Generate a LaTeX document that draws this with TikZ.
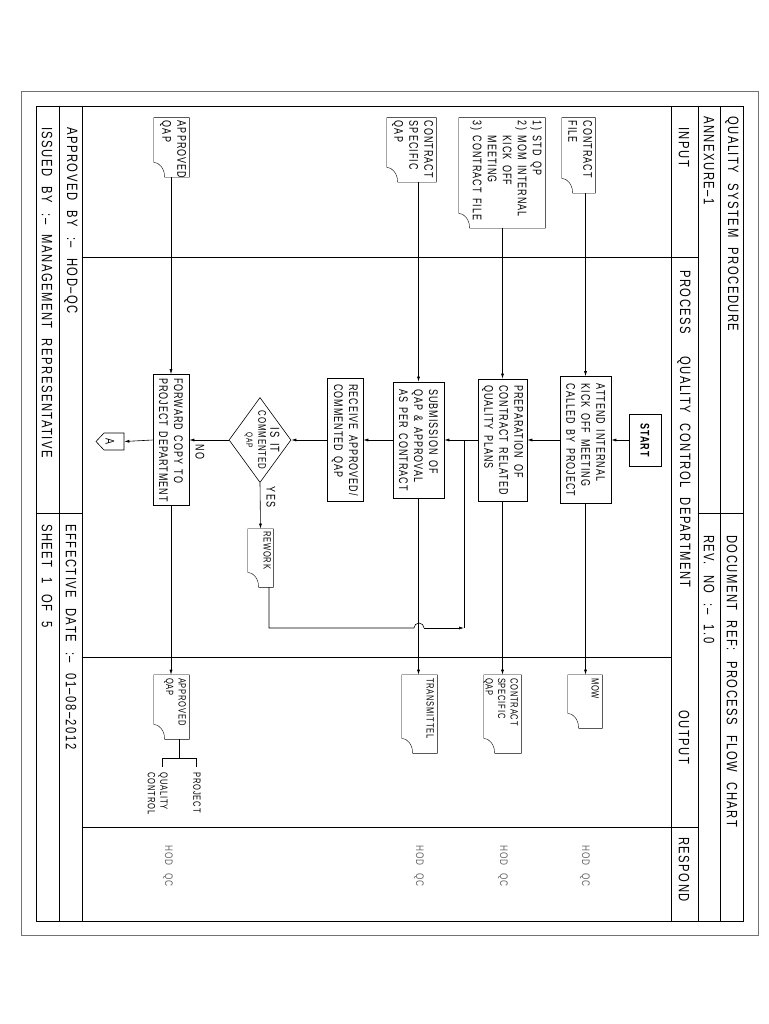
\documentclass[tikz,border=0pt]{standalone}
\usepackage{fontspec}
\usetikzlibrary{shapes.geometric,calc,arrows.meta}
\newfontfamily\cadf[FakeStretch=0.75,LetterSpace=10,WordSpace=2.2]{Liberation Sans}
\newfontfamily\cadp[FakeStretch=0.72,LetterSpace=8,WordSpace=1.6]{Liberation Sans}
\newcommand\hfnt{\cadf\fontsize{15}{17}\selectfont}
\newcommand\pfnt{\cadp\fontsize{12.5}{15}\selectfont}
\newcommand\ofnt{\cadp\fontsize{10.5}{12.5}\selectfont}
\newcommand\rfnt{\cadf\fontsize{11}{12}\selectfont}
\newcommand\docframe[1]{\draw[thin] (#1.south west) -- (#1.north west) -- (#1.north east) -- ($(#1.south east)+(11,0)$) .. controls ($(#1.south east)+(11,-8)$) and ($(#1.south east)+(6,-15)$) .. ($(#1.south east)+(0,-15)$) -- cycle;}
\begin{document}
\begin{tikzpicture}[x=1pt,y=-1pt,line width=0.6pt,
  hdr/.style={rotate=-90,anchor=west,inner sep=0pt,font=\hfnt},
  proc/.style={draw,rotate=-90,inner sep=1pt,align=left,font=\pfnt},
  docb/.style={rotate=-90,inner sep=0pt},
  dtxt/.style={rotate=-90,anchor=north west,inner sep=3pt,align=left,font=\pfnt},
  otxt/.style={rotate=-90,anchor=north west,inner sep=3pt,align=left,font=\ofnt},
  resp/.style={rotate=-90,anchor=west,inner sep=0pt,font=\rfnt,text=black!60},
  arr/.style={-{Latex[length=5pt,width=3pt]}}]
\useasboundingbox (0,0) rectangle (768,1024);
% frames
\draw[black!55,line width=1pt] (21,92) rectangle (758,935);
\draw[line width=0.8pt] (36,106) rectangle (743,921);
\foreach \x in {59,82,671,698,720} \draw (\x,106) -- (\x,921);
\draw (82,257) -- (698,257);
\draw (82,657) -- (671,657);
\draw (82,827) -- (698,827);
\draw (36,513) -- (82,513);
\draw (698,513) -- (743,513);
% header texts
\node[hdr] (h1) at (732,116) {QUALITY SYSTEM PROCEDURE};
\node[hdr] (h2) at (732,535) {DOCUMENT REF: PROCESS FLOW CHART};
\node[hdr] (h3) at (709,116) {ANNEXURE–1};
\node[hdr] (h4) at (709,535) {REV. NO :– 1.0};
\node[hdr] (h5) at (684,127) {INPUT};
\node[hdr] (h6) at (684,270) {PROCESS\hspace{22pt}QUALITY CONTROL DEPARTMENT};
\node[hdr] (h7) at (684,710) {OUTPUT};
\node[hdr] (h8) at (684,837) {RESPOND};
\node[hdr] (h9) at (71,127) {APPROVED BY :– HOD–QC};
\node[hdr] (h10) at (71,524) {EFFECTIVE DATE :– 01–08–2012};
\node[hdr] (h11) at (47,127) {ISSUED BY :– MANAGEMENT REPRESENTATIVE};
\node[hdr] (h12) at (47,524) {SHEET 1 OF 5};
% input documents
\node[docb,minimum width=75,minimum height=33] (cfile) at (578.5,155.5) {};
\docframe{cfile}
\node[dtxt] (tcfile) at (cfile.north west) {CONTRACT\\FILE};
\node[docb,minimum width=110,minimum height=86] (lst) at (502,173) {};
\docframe{lst}
\node[dtxt] (tlst) at (lst.north west) {1) STD QP\\2) MOM INTERNAL\\\phantom{2) }KICK OFF\\\phantom{2) }MEETING\\3) CONTRACT FILE};
\node[docb,minimum width=64,minimum height=49] (cspin) at (411.5,150) {};
\docframe{cspin}
\node[dtxt] (tcspin) at (cspin.north west) {CONTRACT\\SPECIFIC\\QAP};
\node[docb,minimum width=59,minimum height=35] (apin) at (171.5,147.5) {};
\docframe{apin}
\node[dtxt] (tapin) at (apin.north west) {APPROVED\\QAP};
% process
\node[proc,font=\pfnt\bfseries,minimum width=52,minimum height=32,align=center] (start) at (645,440) {START};
\node[proc,minimum width=127,minimum height=51] (att) at (585.5,440) {ATTEND INTERNAL\\KICK OFF MEETING\\CALLED BY PROJECT};
\node[proc,minimum width=122,minimum height=49] (prep) at (502.5,440) {PREPARATION OF\\CONTRACT RELATED\\QUALITY PLANS};
\node[proc,minimum width=116,minimum height=51] (subm) at (418.5,440) {SUBMISSION OF\\QAP \& APPROVAL\\AS PER CONTRACT};
\node[proc,minimum width=123,minimum height=36] (recv) at (345,440) {RECEIVE APPROVED/\\COMMENTED QAP};
\node[draw,diamond,rotate=-90,minimum width=85,minimum height=62,aspect=1.37,inner sep=0pt] (dia) at (260,440) {};
\node[rotate=-90,align=center,inner sep=0pt,font=\cadp\fontsize{11}{12}\selectfont] (tdia) at (262,440) {{\fontsize{13}{13}\selectfont IS IT}\\COMMENTED\\{\fontsize{9}{10}\selectfont QAP}};
\node[proc,minimum width=131,minimum height=36] (fwd) at (171,440) {FORWARD COPY TO\\PROJECT DEPARTMENT};
\node[rotate=-90,minimum width=17,minimum height=28,inner sep=0pt,font=\pfnt] (offa) at (110,441.5) {A};
\draw (124,433) -- (124,450) -- (104,450) -- (96,441.5) -- (104,433) -- cycle;
\node[rotate=-90,inner sep=0pt,font=\pfnt] (tno) at (200,452) {NO};
\node[rotate=-90,inner sep=0pt,font=\pfnt] (tyes) at (271,497) {YES};
\node[docb,minimum width=58,minimum height=25] (rework) at (260.5,558) {};
\docframe{rework}
\node[otxt,inner sep=2pt] (trw) at (rework.north west) {REWORK};
% outputs
\node[docb,minimum width=53,minimum height=34] (mow) at (585,701.5) {};
\docframe{mow}
\node[otxt] (tmow) at (mow.north west) {MOW};
\node[docb,minimum width=78,minimum height=37] (csout) at (502.5,714) {};
\docframe{csout}
\node[otxt] (tcsout) at (csout.north west) {CONTRACT\\SPECIFIC\\QAP};
\node[docb,minimum width=78,minimum height=35] (trans) at (419.5,714) {};
\docframe{trans}
\node[otxt] (ttrans) at (trans.north west) {TRANSMITTEL};
\node[docb,minimum width=64,minimum height=35] (apout) at (171.5,707) {};
\docframe{apout}
\node[otxt] (tapout) at (apout.north west) {APPROVED\\QAP};
\node[rotate=-90,anchor=north west,inner sep=0pt,font=\ofnt] (tproj) at (201,772) {PROJECT};
\node[rotate=-90,anchor=north west,inner sep=0pt,align=left,font=\ofnt] (tqc) at (168,772) {QUALITY\\CONTROL};
% respond
\node[resp] (r1) at (585,845) {HOD QC};
\node[resp] (r2) at (503,845) {HOD QC};
\node[resp] (r3) at (419,845) {HOD QC};
\node[resp] (r4) at (168,845) {HOD QC};
% connectors: input -> process
\draw[arr] (att.west |- cfile.east) -- (att.west);
\draw[arr] (prep.west |- lst.east) -- (prep.west);
\draw[arr] (subm.west |- cspin.east) -- (subm.west);
\draw[arr] (fwd.west |- apin.east) -- (fwd.west);
% spine
\draw[arr] (start.south) -- (att.north);
\draw[arr] (att.south) -- (prep.north);
\draw[arr] (prep.south) -- (subm.north);
\draw[arr] (subm.south) -- (recv.north);
\draw[arr] (recv.south) -- (dia.north);
\draw[arr] (dia.south) -- (fwd.north);
\draw[arr] (fwd.south) -- (offa.north);
\draw[arr] (dia.east) -- (rework.west);
% rework loop
\coordinate (rw1) at (269,587);
\coordinate (hop1) at (414,628);
\coordinate (hop2) at (424,628);
\coordinate (rj) at (464,628);
\coordinate (rk) at (464,440);
\draw (rw1) |- (hop1) arc[start angle=180,end angle=360,radius=5];
\draw[arr] (hop2) -- (rj);
\draw (rj) -- (rk);
% process -> output
\draw[arr] (att.east) -- (att.east |- mow.west);
\draw[arr] (prep.east) -- (prep.east |- csout.west);
\draw[arr] (subm.east) -- (subm.east |- trans.west);
\draw[arr] (fwd.east) -- (fwd.east |- apout.west);
% split
\coordinate (s0) at (179,739);
\coordinate (s1) at (179,758);
\coordinate (s2) at (162,758);
\coordinate (s3) at (196,758);
\coordinate (e2) at (162,767);
\coordinate (e3) at (196,767);
\draw (s0) -- (s1);
\draw (e2) -- (s2) -- (s3) -- (e3);
\end{tikzpicture}
\end{document}
